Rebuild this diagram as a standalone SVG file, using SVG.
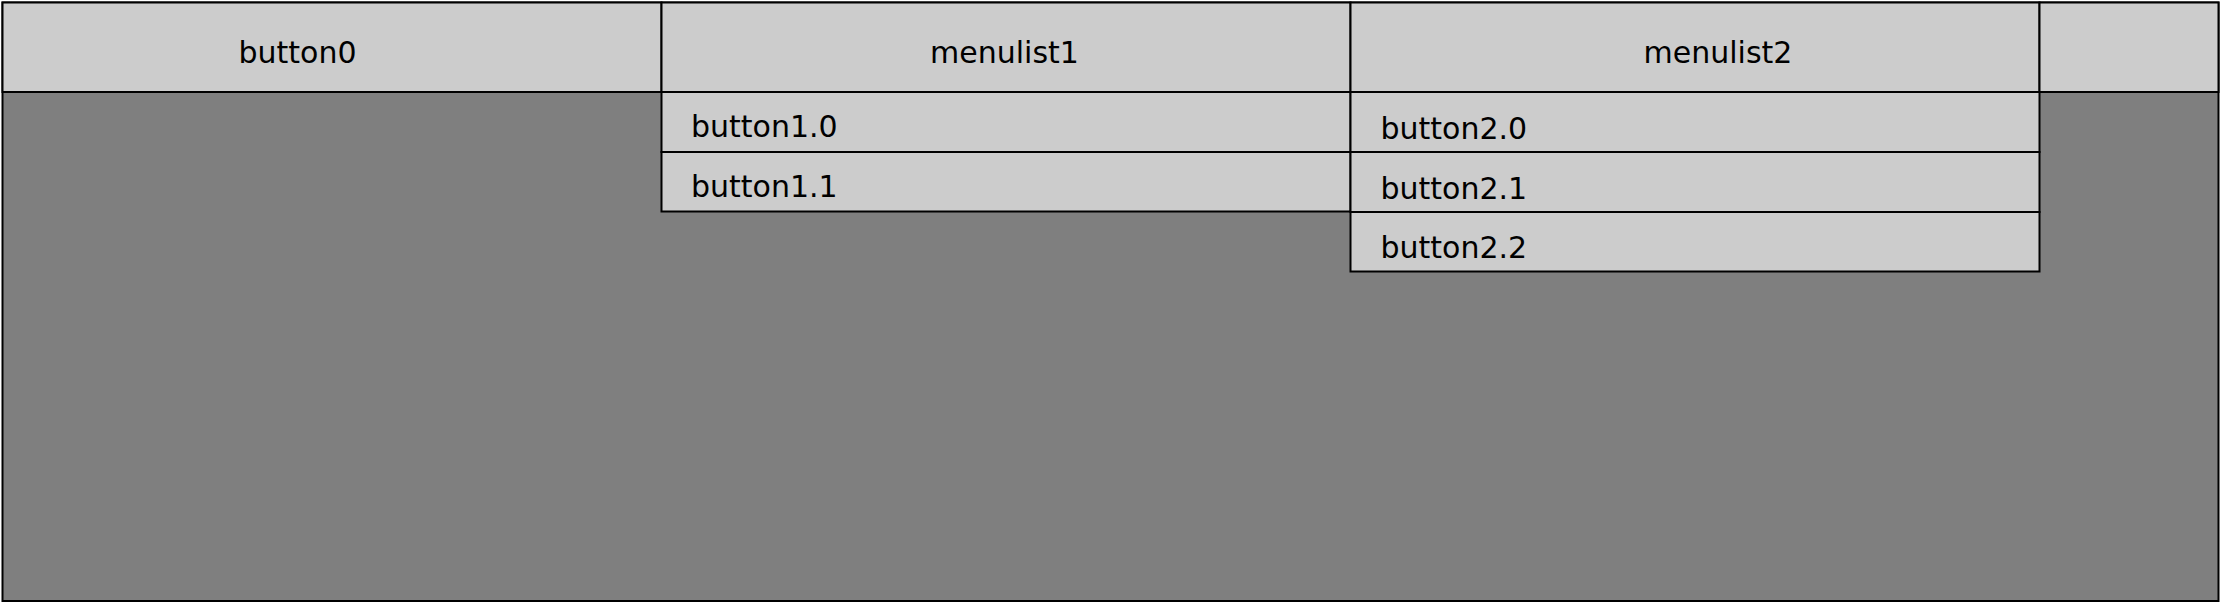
<svg xmlns="http://www.w3.org/2000/svg" width="2221" height="603" viewBox="0 0 2221 603">
<style>
.bg{fill:#7f7f7f;stroke:#000;stroke-width:2}
.box{fill:#cccccc;stroke:#000;stroke-width:2}
.t{font-family:"DejaVu Sans",sans-serif;font-size:30px;fill:#000}
.c{text-anchor:middle}
</style>
<rect class="bg" x="2.5" y="2.5" width="2216" height="598.5"/>
<g id="button0"><rect class="box" x="2.5" y="2.5" width="659" height="89.5"/><text class="t c" x="297.5" y="63">button0</text></g>
<g id="menulist1"><rect class="box" x="661.5" y="2.5" width="689" height="89.5"/><text class="t c" x="1004.5" y="63">menulist1</text></g>
<g id="menulist2"><rect class="box" x="1350.5" y="2.5" width="689" height="89.5"/><text class="t c" x="1718" y="63">menulist2</text></g>
<g id="spacer"><rect class="box" x="2039.5" y="2.5" width="179" height="89.5"/></g>
<g id="button1.0"><rect class="box" x="661.5" y="92" width="689" height="60"/><text class="t" x="691" y="137">button1.0</text></g>
<g id="button1.1"><rect class="box" x="661.5" y="152" width="689" height="59.5"/><text class="t" x="691" y="197">button1.1</text></g>
<g id="button2.0"><rect class="box" x="1350.5" y="92" width="689" height="60"/><text class="t" x="1380.5" y="138.5">button2.0</text></g>
<g id="button2.1"><rect class="box" x="1350.5" y="152" width="689" height="60"/><text class="t" x="1380.5" y="198.5">button2.1</text></g>
<g id="button2.2"><rect class="box" x="1350.5" y="212" width="689" height="59.5"/><text class="t" x="1380.5" y="258">button2.2</text></g>
<g id="connectors"/>
</svg>
